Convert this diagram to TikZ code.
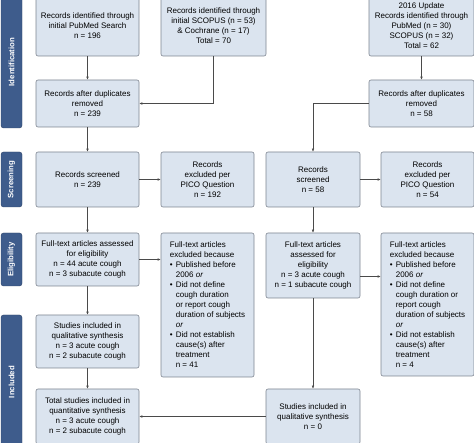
\documentclass[tikz,border=0pt]{standalone}
\usepackage{fontspec}
\setmainfont{Liberation Sans}
\usepackage{tikz}
\usetikzlibrary{arrows.meta, positioning}
\definecolor{boxfill}{HTML}{DBE4EF}
\definecolor{boxline}{HTML}{7D8590}
\definecolor{tabfill}{HTML}{3E5C8C}
\definecolor{wire}{HTML}{4A4A4A}
\tikzset{
	flowbox/.style={draw=boxline, fill=boxfill, rounded corners=2pt, line width=0.6pt,
		align=center, inner sep=1pt, font=\fontsize{8}{10}\selectfont}
}
\tikzset{
	phasetab/.style={fill=tabfill, draw=tabfill!75!black, rounded corners=2.5pt, rotate=90,
		text=white, font=\bfseries\fontsize{7.8}{9}\selectfont}
}
\tikzset{
	flowarrow/.style={draw=wire, line width=0.5pt, -{Latex[length=3pt,width=2.6pt]}}
}
\newcommand{\bul}{\makebox[6pt][l]{\textbullet}}
\newcommand{\hang}{\hspace*{6pt}}

\begin{document}
\begin{tikzpicture}[x=1pt, y=-1pt]
      \useasboundingbox (0,0) rectangle (474,443);
      \clip (0,0) rectangle (474,443);

      % phase tabs on the left
      \node[phasetab, minimum width=132pt, minimum height=21pt] (tabid) at (11.5,62) {Identification};
      \node[phasetab, minimum width=55pt, minimum height=21pt] (tabscr) at (11.5,179.5) {Screening};
      \node[phasetab, minimum width=53pt, minimum height=21pt] (tabelig) at (11.5,259.5) {Eligibility};
      \node[phasetab, minimum width=134pt, minimum height=21pt] (tabincl) at (11.5,382) {Included};

      % identification
      \node[flowbox, minimum width=103pt, minimum height=60pt] (pubmed) at (87.5,26) {Records identified through\\initial PubMed Search\\n = 196};
      \node[flowbox, minimum width=105pt, minimum height=60pt] (scopus) at (213.5,26) {Records identified through\\initial SCOPUS (n = 53)\\\& Cochrane (n = 17)\\Total = 70};
      \node[flowbox, minimum width=105pt, minimum height=60pt] (update) at (421.5,26) {2016 Update\\Records identified through\\PubMed (n = 30)\\SCOPUS (n = 32)\\Total = 62};
      \node[flowbox, minimum width=103pt, minimum height=47pt] (duplL) at (87.5,103.5) {Records after duplicates\\removed\\n = 239};
      \node[flowbox, minimum width=105pt, minimum height=47pt] (duplR) at (421.5,103.5) {Records after duplicates\\removed\\n = 58};

      % screening
      \node[flowbox, minimum width=103pt, minimum height=55pt] (screenL) at (87.5,179.5) {Records screened\\n = 239};
      \node[flowbox, minimum width=93pt, minimum height=55pt] (picoL) at (207.5,179.5) {Records\\excluded per\\PICO Question\\n = 192};
      \node[flowbox, minimum width=94pt, minimum height=55pt] (screenR) at (313,179.5) {Records\\screened\\n = 58};
      \node[flowbox, minimum width=93pt, minimum height=55pt] (picoR) at (427.5,179.5) {Records\\excluded per\\PICO Question\\n = 54};

      % eligibility
      \node[flowbox, minimum width=103pt, minimum height=53pt] (fullL) at (87.5,259.5) {Full-text articles assessed\\for eligibility\\n = 44 acute cough\\n = 3 subacute cough};
      \node[flowbox, align=left, minimum width=93pt, minimum height=144pt] (exclL) at (207.5,305) {Full-text articles\\excluded because\\\bul Published before\\\hang 2006 \textit{or}\\\bul Did not define\\\hang cough duration\\\hang or report cough\\\hang duration of subjects\\\hang \textit{or}\\\bul Did not establish\\\hang cause(s) after\\\hang treatment\\\hang n = 41};
      \node[flowbox, minimum width=94pt, minimum height=65pt] (fullR) at (313,265.5) {Full-text articles\\assessed for\\eligibility\\n = 3 acute cough\\n = 1 subacute cough};
      \node[flowbox, align=left, minimum width=93pt, minimum height=143pt] (exclR) at (427.5,304.5) {Full-text articles\\excluded because\\\bul Published before\\\hang 2006 \textit{or}\\\bul Did not define\\\hang cough duration or\\\hang report cough\\\hang duration of subjects\\\hang \textit{or}\\\bul Did not establish\\\hang cause(s) after\\\hang treatment\\\hang n = 4};

      % included
      \node[flowbox, minimum width=103pt, minimum height=53pt] (qualL) at (87.5,341.5) {Studies included in\\qualitative synthesis\\n = 3 acute cough\\n = 2 subacute cough};
      \node[flowbox, minimum width=103pt, minimum height=55pt] (totalL) at (87.5,416.5) {Total studies included in\\quantitative synthesis\\n = 3 acute cough\\n = 2 subacute cough};
      \node[flowbox, minimum width=94pt, minimum height=55pt] (qualR) at (313,416.5) {Studies included in\\qualitative synthesis\\n = 0};

      % connectors
      \draw[flowarrow] (pubmed) -- (duplL);
      \draw[flowarrow] (scopus.south) |- (duplL.east);
      \draw[flowarrow] (update) -- (duplR);
      \draw[flowarrow] (duplR.west) -| (screenR.north);
      \draw[flowarrow] (duplL) -- (screenL);
      \draw[flowarrow] (screenL) -- (picoL);
      \draw[flowarrow] (screenR) -- (picoR);
      \draw[flowarrow] (screenL) -- (fullL);
      \draw[flowarrow] (screenR) -- (fullR);
      \draw[flowarrow] (fullL.east) -- (fullL.east -| exclL.west);
      \draw[flowarrow] ([yshift=-11pt]fullR.east) coordinate (fr) -- (fr -| exclR.west);
      \draw[flowarrow] (fullL) -- (qualL);
      \draw[flowarrow] (qualL) -- (totalL);
      \draw[flowarrow] (fullR) -- (qualR);
      \draw[flowarrow] (qualR) -- (totalL);
    \end{tikzpicture}
\end{document}
